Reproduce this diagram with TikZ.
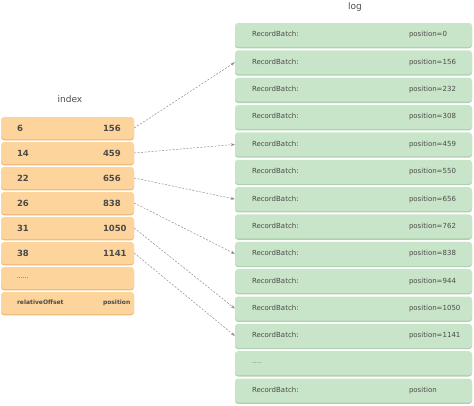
\documentclass[tikz,border=0pt]{standalone}
\usepackage{fontspec}
\setmainfont{DejaVu Sans}
\usetikzlibrary{shadows,arrows.meta}
\definecolor{idxfill}{HTML}{FDD49C}
\definecolor{idxshade}{HTML}{EDB978}
\definecolor{logfill}{HTML}{C9E5C9}
\definecolor{logshade}{HTML}{ADD0AD}
\definecolor{txt}{HTML}{4A4A4A}
\definecolor{arr}{HTML}{8C8C8C}

\begin{document}
\begin{tikzpicture}[x=1pt, y=-1pt,
    ibox/.style={rectangle, rounded corners=3pt, fill=idxfill, text=txt, minimum width=133pt, minimum height=22pt, inner xsep=16pt, inner ysep=0pt, text width=101pt, align=left, font=\fontsize{8.5}{10}\selectfont\bfseries, drop shadow={shadow xshift=0pt, shadow yshift=-1.3pt, fill=idxshade, opacity=1}},
    lbox/.style={rectangle, rounded corners=3pt, fill=logfill, text=txt, minimum width=237pt, minimum height=24pt, inner xsep=17pt, inner ysep=0pt, text width=203pt, align=left, font=\fontsize{7}{8}\selectfont, drop shadow={shadow xshift=0pt, shadow yshift=-1.3pt, fill=logshade, opacity=1}},
    title/.style={text=txt, font=\fontsize{9}{10}\selectfont},
    link/.style={arr, line width=0.5pt, dash pattern=on 2pt off 1.5pt, -{Stealth[length=4pt,width=3pt]}}]
        \useasboundingbox (0,0) rectangle (474,405);
        \coordinate (o1) at (67.5,128);
        \coordinate (o2) at (67.5,153);
        \coordinate (o3) at (67.5,178);
        \coordinate (o4) at (67.5,203);
        \coordinate (o5) at (67.5,228);
        \coordinate (o6) at (67.5,253);
        \coordinate (o7) at (67.5,278);
        \coordinate (o8) at (67.5,303);
        \node[ibox] (i1) at (o1) {\makebox[86pt][l]{6}\rlap{156}};
        \node[ibox] (i2) at (o2) {\makebox[86pt][l]{14}\rlap{459}};
        \node[ibox] (i3) at (o3) {\makebox[86pt][l]{22}\rlap{656}};
        \node[ibox] (i4) at (o4) {\makebox[86pt][l]{26}\rlap{838}};
        \node[ibox] (i5) at (o5) {\makebox[86pt][l]{31}\rlap{1050}};
        \node[ibox] (i6) at (o6) {\makebox[86pt][l]{38}\rlap{1141}};
        \node[ibox] (i7) at (o7) {\fontsize{6}{7}\selectfont\mdseries ......};
        \node[ibox] (i8) at (o8) {\fontsize{6}{7}\selectfont\makebox[86pt][l]{relativeOffset}\rlap{position}};
        \node[title] (idx) at (70,99) {index};
        \node[title] (lg) at (355,7) {log};
        \node[lbox] (l1) at (353.5,35) {\makebox[157pt][l]{RecordBatch:}\rlap{position=0}};
        \node[lbox] (l2) at (353.5,62.35) {\makebox[157pt][l]{RecordBatch:}\rlap{position=156}};
        \node[lbox] (l3) at (353.5,89.7) {\makebox[157pt][l]{RecordBatch:}\rlap{position=232}};
        \node[lbox] (l4) at (353.5,117.05) {\makebox[157pt][l]{RecordBatch:}\rlap{position=308}};
        \node[lbox] (l5) at (353.5,144.4) {\makebox[157pt][l]{RecordBatch:}\rlap{position=459}};
        \node[lbox] (l6) at (353.5,171.75) {\makebox[157pt][l]{RecordBatch:}\rlap{position=550}};
        \node[lbox] (l7) at (353.5,199.1) {\makebox[157pt][l]{RecordBatch:}\rlap{position=656}};
        \node[lbox] (l8) at (353.5,226.45) {\makebox[157pt][l]{RecordBatch:}\rlap{position=762}};
        \node[lbox] (l9) at (353.5,253.8) {\makebox[157pt][l]{RecordBatch:}\rlap{position=838}};
        \node[lbox] (l10) at (353.5,281.15) {\makebox[157pt][l]{RecordBatch:}\rlap{position=944}};
        \node[lbox] (l11) at (353.5,308.5) {\makebox[157pt][l]{RecordBatch:}\rlap{position=1050}};
        \node[lbox] (l12) at (353.5,335.85) {\makebox[157pt][l]{RecordBatch:}\rlap{position=1141}};
        \node[lbox] (l13) at (353.5,363.2) {\fontsize{5}{6}\selectfont ......};
        \node[lbox] (l14) at (353.5,390.55) {\makebox[157pt][l]{RecordBatch:}\rlap{position}};
        \draw[link] (i1.east) -- (l2.west);
        \draw[link] (i2.east) -- (l5.west);
        \draw[link] (i3.east) -- (l7.west);
        \draw[link] (i4.east) -- (l9.west);
        \draw[link] (i5.east) -- (l11.west);
        \draw[link] (i6.east) -- (l12.west);
    \end{tikzpicture}
\end{document}
